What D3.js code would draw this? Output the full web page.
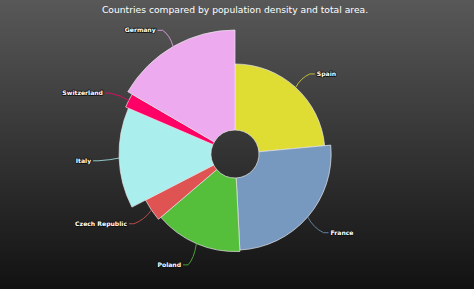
<!DOCTYPE html>
<html>
<head>
<meta charset="utf-8">
<script src="https://cdn.jsdelivr.net/npm/d3@7"></script>
<style>
  html, body { margin: 0; padding: 0; background: #101010; }
  svg { display: block; }
  .title { font-family: "Lucida Grande", "DejaVu Sans", sans-serif; font-size: 9.2px; fill: #fff; }
  .label { font-family: "DejaVu Sans", sans-serif; font-size: 6.1px; font-weight: bold; fill: #fff;
           stroke: #111; stroke-width: 1.6px; paint-order: stroke; stroke-linejoin: round; }
</style>
</head>
<body>
<div id="chart"></div>
<script>
// data
const countries = ["Spain", "France", "Poland", "Czech Republic", "Italy", "Switzerland", "Germany"];
const areas = [505370, 551500, 312685, 78867, 301340, 41277, 357022];       // km² -> slice angle
const densities = [92.9, 118.7, 124.6, 137.5, 201.8, 214.5, 235.6];          // people/km² -> slice radius
const colors = ["#dfdd33", "#7798BF", "#55BF3B", "#DF5353", "#aaeeee", "#ff0066", "#eeaaee"];

const width = 474, height = 289;
const cx = 235, cy = 154, innerR = 24;

const svg = d3.select("#chart").append("svg")
    .attr("width", width)
    .attr("height", height);

// background gradient
const grad = svg.append("defs").append("linearGradient")
    .attr("id", "bg").attr("x1", 0).attr("y1", 0).attr("x2", 0).attr("y2", 1);
grad.append("stop").attr("offset", 0).attr("stop-color", "rgb(88,88,88)");
grad.append("stop").attr("offset", 1).attr("stop-color", "rgb(18,18,18)");
svg.append("rect").attr("width", width).attr("height", height).attr("fill", "url(#bg)");

svg.append("text")
    .attr("class", "title")
    .attr("x", cx)
    .attr("y", 13)
    .attr("text-anchor", "middle")
    .text("Countries compared by population density and total area.");

const data = countries.map((c, i) => ({ name: c, y: areas[i], z: densities[i], color: colors[i] }));

// radius scale: z -> outer radius
const rScale = d3.scaleLinear()
    .domain(d3.extent(densities))
    .range([90, 124]);

const pie = d3.pie().sort(null).value(d => d.y);
const arcs = pie(data);

const g = svg.append("g").attr("transform", `translate(${cx},${cy})`);

const arc = d3.arc()
    .innerRadius(innerR)
    .outerRadius(d => rScale(d.data.z));

g.selectAll("path.slice")
    .data(arcs)
    .join("path")
    .attr("class", "slice")
    .attr("d", arc)
    .attr("fill", d => d.data.color)
    .attr("stroke", "#e8e8e8")
    .attr("stroke-width", 0.7)
    .attr("stroke-linejoin", "round");

// data labels with connectors
const labelDist = 21;
arcs.forEach(d => {
    const a = (d.startAngle + d.endAngle) / 2;
    const r = rScale(d.data.z);
    const px = Math.sin(a) * r, py = -Math.cos(a) * r;
    const lx = Math.sin(a) * (r + labelDist), ly = -Math.cos(a) * (r + labelDist) + 2;
    const right = Math.sin(a) >= 0;
    const tx = lx + (right ? 5 : -5);

    g.append("path")
        .attr("d", `M${px},${py} Q${(px + lx) / 2 + (right ? -2 : 2)},${ly + (py - ly) * 0.3} ${lx},${ly} L${tx},${ly}`)
        .attr("fill", "none")
        .attr("stroke", d.data.color)
        .attr("stroke-width", 0.8);

    g.append("text")
        .attr("class", "label")
        .attr("x", tx + (right ? 2 : -2))
        .attr("y", ly)
        .attr("dy", "0.35em")
        .attr("text-anchor", right ? "start" : "end")
        .text(d.data.name);
});
</script>
</body>
</html>
